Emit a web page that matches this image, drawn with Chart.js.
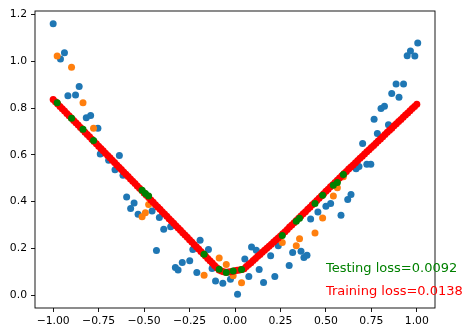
<!DOCTYPE html>
<html>
<head>
<meta charset="utf-8">
<script src="https://cdn.jsdelivr.net/npm/chart.js@4.4.1/dist/chart.umd.min.js"></script>
<style>
  html, body { margin: 0; padding: 0; background: #fff; }
  #chart { display: block; }
</style>
</head>
<body>
<canvas id="chart" width="474" height="335"></canvas>
<script>
// Données d'entraînement (bleu)
var trainX = [-1.00, -0.96, -0.938, -0.919, -0.877, -0.857, -0.818, -0.794, -0.754, -0.741,
  -0.695, -0.66, -0.636, -0.616, -0.596, -0.574, -0.555, -0.533, -0.456, -0.432,
  -0.416, -0.392, -0.354, -0.328, -0.313, -0.29, -0.249, -0.232, -0.21, -0.192,
  -0.146, -0.126, -0.107, -0.067, -0.025, 0.014, 0.054, 0.076, 0.091, 0.117,
  0.133, 0.157, 0.196, 0.219, 0.238, 0.298, 0.317, 0.363, 0.379, 0.396,
  0.416, 0.456, 0.50, 0.526, 0.583, 0.62, 0.638, 0.666, 0.682, 0.702,
  0.725, 0.747, 0.765, 0.783, 0.803, 0.822, 0.844, 0.862, 0.886, 0.902,
  0.927, 0.947, 0.965, 0.989, 1.005];
var trainY = [1.16, 1.01, 1.037, 0.853, 0.856, 0.892, 0.759, 0.768, 0.714, 0.604,
  0.577, 0.536, 0.597, 0.513, 0.420, 0.370, 0.394, 0.346, 0.360, 0.191,
  0.332, 0.282, 0.292, 0.118, 0.107, 0.140, 0.147, 0.195, 0.097, 0.235,
  0.195, 0.114, 0.060, 0.051, 0.068, 0.004, 0.154, 0.080, 0.206, 0.192,
  0.110, 0.054, 0.168, 0.080, 0.211, 0.127, 0.182, 0.188, 0.161, 0.171,
  0.326, 0.356, 0.380, 0.392, 0.342, 0.409, 0.430, 0.540, 0.550, 0.648,
  0.560, 0.560, 0.752, 0.691, 0.798, 0.808, 0.729, 0.862, 0.903, 0.846,
  0.903, 1.024, 1.044, 1.023, 1.078];

// Données de test (orange) et prédictions sur le test (vert)
var testX = [-0.978, -0.899, -0.836, -0.778, -0.511, -0.493, -0.475, -0.17, -0.087, -0.048,
  -0.01, 0.036, 0.26, 0.337, 0.355, 0.44, 0.482, 0.541, 0.563, 0.596];
var testY = [1.023, 0.974, 0.823, 0.714, 0.335, 0.352, 0.388, 0.085, 0.159, 0.131,
  0.083, 0.053, 0.225, 0.211, 0.241, 0.266, 0.330, 0.424, 0.459, 0.506];
var testPredY = [0.823, 0.756, 0.709, 0.661, 0.449, 0.435, 0.424, 0.175, 0.111, 0.097,
  0.103, 0.110, 0.255, 0.316, 0.329, 0.392, 0.427, 0.470, 0.482, 0.516];

// Prédictions sur l'entraînement (rouge), lues le long de la bande rouge
var fitX = [-1.0000, -0.9875, -0.9750, -0.9625, -0.9500, -0.9375, -0.9250, -0.9125, -0.9000, -0.8875,
  -0.8750, -0.8625, -0.8500, -0.8375, -0.8250, -0.8125, -0.8000, -0.7875, -0.7750, -0.7625,
  -0.7500, -0.7375, -0.7250, -0.7125, -0.7000, -0.6875, -0.6750, -0.6625, -0.6500, -0.6375,
  -0.6250, -0.6125, -0.6000, -0.5875, -0.5750, -0.5625, -0.5500, -0.5375, -0.5250, -0.5125,
  -0.5000, -0.4875, -0.4750, -0.4625, -0.4500, -0.4375, -0.4250, -0.4125, -0.4000, -0.3875,
  -0.3750, -0.3625, -0.3500, -0.3375, -0.3250, -0.3125, -0.3000, -0.2875, -0.2750, -0.2625,
  -0.2500, -0.2375, -0.2250, -0.2125, -0.2000, -0.1875, -0.1750, -0.1625, -0.1500, -0.1375,
  -0.1250, -0.1125, -0.1000, -0.0875, -0.0750, -0.0625, -0.0500, -0.0375, -0.0250, -0.0125,
  0.0000, 0.0125, 0.0250, 0.0375, 0.0500, 0.0625, 0.0750, 0.0875, 0.1000, 0.1125,
  0.1250, 0.1375, 0.1500, 0.1625, 0.1750, 0.1875, 0.2000, 0.2125, 0.2250, 0.2375,
  0.2500, 0.2625, 0.2750, 0.2875, 0.3000, 0.3125, 0.3250, 0.3375, 0.3500, 0.3625,
  0.3750, 0.3875, 0.4000, 0.4125, 0.4250, 0.4375, 0.4500, 0.4625, 0.4750, 0.4875,
  0.5000, 0.5125, 0.5250, 0.5375, 0.5500, 0.5625, 0.5750, 0.5875, 0.6000, 0.6125,
  0.6250, 0.6375, 0.6500, 0.6625, 0.6750, 0.6875, 0.7000, 0.7125, 0.7250, 0.7375,
  0.7500, 0.7625, 0.7750, 0.7875, 0.8000, 0.8125, 0.8250, 0.8375, 0.8500, 0.8625,
  0.8750, 0.8875, 0.9000, 0.9125, 0.9250, 0.9375, 0.9500, 0.9625, 0.9750, 0.9875, 1.0000];
var fitY = [0.837, 0.827, 0.817, 0.807, 0.797, 0.787, 0.777, 0.767, 0.757, 0.747,
  0.737, 0.727, 0.717, 0.707, 0.697, 0.687, 0.677, 0.667, 0.657, 0.647,
  0.637, 0.627, 0.617, 0.607, 0.597, 0.587, 0.577, 0.567, 0.557, 0.547,
  0.537, 0.527, 0.517, 0.507, 0.497, 0.487, 0.477, 0.467, 0.457, 0.447,
  0.437, 0.427, 0.417, 0.407, 0.397, 0.387, 0.377, 0.367, 0.357, 0.347,
  0.337, 0.327, 0.317, 0.307, 0.297, 0.287, 0.277, 0.267, 0.257, 0.247,
  0.237, 0.227, 0.217, 0.207, 0.197, 0.187, 0.177, 0.167, 0.157, 0.147,
  0.137, 0.127, 0.117, 0.108, 0.103, 0.100, 0.098, 0.099, 0.100, 0.102,
  0.104, 0.106, 0.108, 0.110, 0.113, 0.122, 0.131, 0.139, 0.148, 0.157,
  0.166, 0.174, 0.183, 0.192, 0.201, 0.209, 0.218, 0.227, 0.236, 0.244,
  0.253, 0.262, 0.271, 0.281, 0.291, 0.300, 0.310, 0.319, 0.329, 0.338,
  0.348, 0.357, 0.367, 0.376, 0.386, 0.395, 0.405, 0.414, 0.424, 0.434,
  0.444, 0.453, 0.463, 0.472, 0.482, 0.491, 0.501, 0.510, 0.520, 0.529,
  0.539, 0.548, 0.557, 0.566, 0.576, 0.585, 0.594, 0.603, 0.613, 0.622,
  0.631, 0.640, 0.650, 0.659, 0.668, 0.677, 0.687, 0.696, 0.705, 0.714,
  0.724, 0.733, 0.742, 0.751, 0.761, 0.770, 0.779, 0.788, 0.798, 0.807, 0.816];

var xTicks = [-1.0, -0.75, -0.5, -0.25, 0.0, 0.25, 0.5, 0.75, 1.0];
var yTicks = [0.0, 0.2, 0.4, 0.6, 0.8, 1.0, 1.2];
var testLoss = 'Testing loss=0.0092';
var trainLoss = 'Training loss=0.0138';

function pts(xs, ys) {
    return xs.map(function (x, i) { return { x: x, y: ys[i] }; });
}

function fmtMinus(s) {
    return s.replace('-', '\u2212');
}

var font = 'DejaVu Sans';

// Cadre des axes et textes des pertes
var framePlugin = {
    id: 'frame',
    afterDraw: function (chart) {
        var ctx = chart.ctx;
        var a = chart.chartArea;
        var xs = chart.scales.x, ys = chart.scales.y;
        ctx.save();
        ctx.strokeStyle = '#000';
        ctx.lineWidth = 0.9;
        ctx.strokeRect(a.left, a.top, a.right - a.left, a.bottom - a.top);
        ctx.font = '13px "' + font + '"';
        ctx.textAlign = 'left';
        ctx.textBaseline = 'alphabetic';
        ctx.fillStyle = '#008000';
        ctx.fillText(testLoss, xs.getPixelForValue(0.5), ys.getPixelForValue(0.1));
        ctx.fillStyle = '#ff0000';
        ctx.fillText(trainLoss, xs.getPixelForValue(0.5), ys.getPixelForValue(0.0));
        ctx.restore();
    }
};

function dotSet(label, data, color, order) {
    return {
        label: label,
        data: data,
        backgroundColor: color,
        borderWidth: 0,
        pointRadius: 3.5,
        pointHoverRadius: 3.5,
        order: order
    };
}

var ctx = document.getElementById('chart').getContext('2d');
new Chart(ctx, {
    type: 'scatter',
    data: {
        datasets: [
            dotSet('test pred', pts(testX, testPredY), '#008000', 0),
            dotSet('train pred', pts(fitX, fitY), '#ff0000', 1),
            dotSet('test', pts(testX, testY), '#ff7f0e', 2),
            dotSet('train', pts(trainX, trainY), '#1f77b4', 3)
        ]
    },
    options: {
        responsive: false,
        animation: false,
        layout: { padding: { left: 0, right: 39, top: 11, bottom: 0 } },
        plugins: {
            legend: { display: false },
            tooltip: { enabled: false }
        },
        scales: {
            x: {
                type: 'linear',
                min: -1.1,
                max: 1.1,
                afterFit: function (s) { s.height = 27; },
                afterBuildTicks: function (s) { s.ticks = xTicks.map(function (v) { return { value: v }; }); },
                border: { display: false },
                grid: { drawOnChartArea: false, drawTicks: true, tickLength: 4, tickColor: '#000', tickWidth: 0.9 },
                ticks: {
                    autoSkip: false,
                    maxRotation: 0,
                    padding: 3,
                    color: '#000',
                    font: { family: font, size: 10.8 },
                    callback: function (v) { return fmtMinus(Number(v).toFixed(2)); }
                }
            },
            y: {
                type: 'linear',
                min: -0.055,
                max: 1.215,
                afterFit: function (s) { s.width = 35; },
                afterBuildTicks: function (s) { s.ticks = yTicks.map(function (v) { return { value: v }; }); },
                border: { display: false },
                grid: { drawOnChartArea: false, drawTicks: true, tickLength: 4, tickColor: '#000', tickWidth: 0.9 },
                ticks: {
                    autoSkip: false,
                    padding: 4,
                    color: '#000',
                    font: { family: font, size: 10.8 },
                    callback: function (v) { return fmtMinus(Number(v).toFixed(1)); }
                }
            }
        }
    },
    plugins: [framePlugin]
});
</script>
</body>
</html>
